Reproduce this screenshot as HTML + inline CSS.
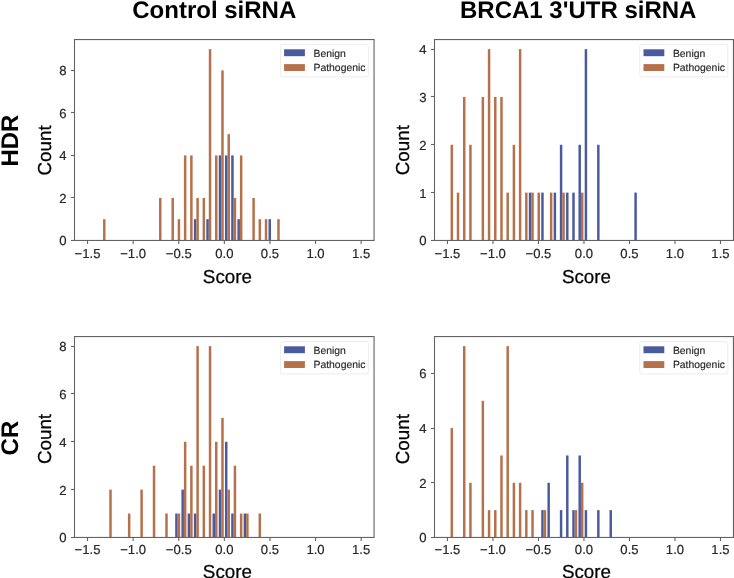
<!DOCTYPE html>
<html><head><meta charset="utf-8"><style>
html,body{margin:0;padding:0;background:#fff;}
body{width:734px;height:578px;overflow:hidden;}
svg{display:block;will-change:transform;}
text{font-family:"Liberation Sans",sans-serif;fill:#000;text-rendering:geometricPrecision;}
.tk{font-size:13.1px;fill:#262626;stroke:#262626;stroke-width:0.2px;}
.lab{font-size:18.8px;fill:#000;stroke:#000;stroke-width:0.25px;}
.ttl{font-size:24px;font-weight:bold;}
.lg{font-size:10.4px;fill:#262626;stroke:#262626;stroke-width:0.15px;}
</style></head><body>
<svg width="734" height="578" viewBox="0 0 734 578">

<rect x="103.03" y="219.19" width="2.49" height="21.26" fill="#b5714a"/>
<rect x="159.02" y="197.93" width="2.49" height="42.52" fill="#b5714a"/>
<rect x="171.47" y="197.93" width="2.49" height="42.52" fill="#b5714a"/>
<rect x="177.69" y="219.19" width="2.49" height="21.26" fill="#b5714a"/>
<rect x="183.91" y="155.42" width="2.49" height="85.03" fill="#b5714a"/>
<rect x="190.13" y="155.42" width="2.49" height="85.03" fill="#b5714a"/>
<rect x="193.87" y="219.19" width="2.49" height="21.26" fill="#4a5a9e"/>
<rect x="196.35" y="197.93" width="2.49" height="42.52" fill="#b5714a"/>
<rect x="202.58" y="197.93" width="2.49" height="42.52" fill="#b5714a"/>
<rect x="206.31" y="219.19" width="2.49" height="21.26" fill="#4a5a9e"/>
<rect x="208.8" y="49.13" width="2.49" height="191.32" fill="#b5714a"/>
<rect x="215.02" y="155.42" width="2.49" height="85.03" fill="#b5714a"/>
<rect x="218.75" y="155.42" width="2.49" height="85.03" fill="#4a5a9e"/>
<rect x="221.24" y="70.38" width="2.49" height="170.07" fill="#b5714a"/>
<rect x="224.98" y="155.42" width="2.49" height="85.03" fill="#4a5a9e"/>
<rect x="227.47" y="134.16" width="2.49" height="106.29" fill="#b5714a"/>
<rect x="231.2" y="155.42" width="2.49" height="85.03" fill="#4a5a9e"/>
<rect x="233.69" y="197.93" width="2.49" height="42.52" fill="#b5714a"/>
<rect x="237.42" y="219.19" width="2.49" height="21.26" fill="#4a5a9e"/>
<rect x="239.91" y="155.42" width="2.49" height="85.03" fill="#b5714a"/>
<rect x="252.35" y="197.93" width="2.49" height="42.52" fill="#b5714a"/>
<rect x="258.57" y="219.19" width="2.49" height="21.26" fill="#b5714a"/>
<rect x="264.8" y="219.19" width="2.49" height="21.26" fill="#b5714a"/>
<rect x="268.53" y="219.19" width="2.49" height="21.26" fill="#4a5a9e"/>
<rect x="277.24" y="219.19" width="2.49" height="21.26" fill="#b5714a"/>
<rect x="74.5" y="39.56" width="299.56" height="200.89" fill="none" stroke="#636363" stroke-width="1.1"/>
<line x1="87.55" y1="240.45" x2="87.55" y2="244.05" stroke="#636363" stroke-width="1.1"/>
<text class="tk" x="87.55" y="257.75" text-anchor="middle">−1.5</text>
<line x1="133.15" y1="240.45" x2="133.15" y2="244.05" stroke="#636363" stroke-width="1.1"/>
<text class="tk" x="133.15" y="257.75" text-anchor="middle">−1.0</text>
<line x1="178.75" y1="240.45" x2="178.75" y2="244.05" stroke="#636363" stroke-width="1.1"/>
<text class="tk" x="178.75" y="257.75" text-anchor="middle">−0.5</text>
<line x1="224.35" y1="240.45" x2="224.35" y2="244.05" stroke="#636363" stroke-width="1.1"/>
<text class="tk" x="224.35" y="257.75" text-anchor="middle">0.0</text>
<line x1="269.95" y1="240.45" x2="269.95" y2="244.05" stroke="#636363" stroke-width="1.1"/>
<text class="tk" x="269.95" y="257.75" text-anchor="middle">0.5</text>
<line x1="315.55" y1="240.45" x2="315.55" y2="244.05" stroke="#636363" stroke-width="1.1"/>
<text class="tk" x="315.55" y="257.75" text-anchor="middle">1.0</text>
<line x1="361.15" y1="240.45" x2="361.15" y2="244.05" stroke="#636363" stroke-width="1.1"/>
<text class="tk" x="361.15" y="257.75" text-anchor="middle">1.5</text>
<line x1="70.9" y1="240.5" x2="74.5" y2="240.5" stroke="#636363" stroke-width="1.1"/>
<text class="tk" x="66.5" y="245.35" text-anchor="end">0</text>
<line x1="70.9" y1="197.5" x2="74.5" y2="197.5" stroke="#636363" stroke-width="1.1"/>
<text class="tk" x="66.5" y="202.83" text-anchor="end">2</text>
<line x1="70.9" y1="155.5" x2="74.5" y2="155.5" stroke="#636363" stroke-width="1.1"/>
<text class="tk" x="66.5" y="160.32" text-anchor="end">4</text>
<line x1="70.9" y1="112.5" x2="74.5" y2="112.5" stroke="#636363" stroke-width="1.1"/>
<text class="tk" x="66.5" y="117.8" text-anchor="end">6</text>
<line x1="70.9" y1="70.5" x2="74.5" y2="70.5" stroke="#636363" stroke-width="1.1"/>
<text class="tk" x="66.5" y="75.28" text-anchor="end">8</text>
<text class="lab" x="227.4" y="283.3" text-anchor="middle">Score</text>
<text class="lab" transform="translate(51,150.4) rotate(-90)" text-anchor="middle">Count</text>
<rect x="280.4" y="44.5" width="88" height="32.4" rx="2.2" fill="#fff" stroke="#ececec" stroke-width="1"/>
<rect x="284.1" y="49.3" width="20.8" height="6.9" fill="#4a5a9e"/>
<rect x="284.1" y="64.1" width="20.8" height="6.9" fill="#b5714a"/>
<text class="lg" x="313.5" y="56.6">Benign</text>
<text class="lg" x="313.5" y="70.9">Pathogenic</text>
<rect x="450.57" y="144.79" width="2.48" height="95.66" fill="#b5714a"/>
<rect x="456.78" y="192.62" width="2.48" height="47.83" fill="#b5714a"/>
<rect x="462.99" y="96.96" width="2.48" height="143.49" fill="#b5714a"/>
<rect x="469.2" y="144.79" width="2.48" height="95.66" fill="#b5714a"/>
<rect x="481.62" y="96.96" width="2.48" height="143.49" fill="#b5714a"/>
<rect x="487.83" y="49.13" width="2.48" height="191.32" fill="#b5714a"/>
<rect x="494.03" y="96.96" width="2.48" height="143.49" fill="#b5714a"/>
<rect x="500.24" y="96.96" width="2.48" height="143.49" fill="#b5714a"/>
<rect x="506.45" y="192.62" width="2.48" height="47.83" fill="#b5714a"/>
<rect x="512.66" y="144.79" width="2.48" height="95.66" fill="#b5714a"/>
<rect x="518.87" y="49.13" width="2.48" height="191.32" fill="#b5714a"/>
<rect x="525.08" y="192.62" width="2.48" height="47.83" fill="#b5714a"/>
<rect x="528.8" y="192.62" width="2.48" height="47.83" fill="#4a5a9e"/>
<rect x="531.28" y="192.62" width="2.48" height="47.83" fill="#b5714a"/>
<rect x="537.49" y="192.62" width="2.48" height="47.83" fill="#b5714a"/>
<rect x="541.22" y="192.62" width="2.48" height="47.83" fill="#4a5a9e"/>
<rect x="549.91" y="192.62" width="2.48" height="47.83" fill="#b5714a"/>
<rect x="553.64" y="192.62" width="2.48" height="47.83" fill="#4a5a9e"/>
<rect x="559.84" y="144.79" width="2.48" height="95.66" fill="#4a5a9e"/>
<rect x="562.33" y="192.62" width="2.48" height="47.83" fill="#b5714a"/>
<rect x="566.05" y="192.62" width="2.48" height="47.83" fill="#4a5a9e"/>
<rect x="572.26" y="192.62" width="2.48" height="47.83" fill="#4a5a9e"/>
<rect x="578.47" y="144.79" width="2.48" height="95.66" fill="#4a5a9e"/>
<rect x="580.95" y="192.62" width="2.48" height="47.83" fill="#b5714a"/>
<rect x="584.68" y="49.13" width="2.48" height="191.32" fill="#4a5a9e"/>
<rect x="597.09" y="144.79" width="2.48" height="95.66" fill="#4a5a9e"/>
<rect x="634.35" y="192.62" width="2.48" height="47.83" fill="#4a5a9e"/>
<rect x="434.5" y="39.56" width="298.95" height="200.89" fill="none" stroke="#636363" stroke-width="1.1"/>
<line x1="447.47" y1="240.45" x2="447.47" y2="244.05" stroke="#636363" stroke-width="1.1"/>
<text class="tk" x="447.47" y="257.75" text-anchor="middle">−1.5</text>
<line x1="492.97" y1="240.45" x2="492.97" y2="244.05" stroke="#636363" stroke-width="1.1"/>
<text class="tk" x="492.97" y="257.75" text-anchor="middle">−1.0</text>
<line x1="538.47" y1="240.45" x2="538.47" y2="244.05" stroke="#636363" stroke-width="1.1"/>
<text class="tk" x="538.47" y="257.75" text-anchor="middle">−0.5</text>
<line x1="583.97" y1="240.45" x2="583.97" y2="244.05" stroke="#636363" stroke-width="1.1"/>
<text class="tk" x="583.97" y="257.75" text-anchor="middle">0.0</text>
<line x1="629.47" y1="240.45" x2="629.47" y2="244.05" stroke="#636363" stroke-width="1.1"/>
<text class="tk" x="629.47" y="257.75" text-anchor="middle">0.5</text>
<line x1="674.97" y1="240.45" x2="674.97" y2="244.05" stroke="#636363" stroke-width="1.1"/>
<text class="tk" x="674.97" y="257.75" text-anchor="middle">1.0</text>
<line x1="720.47" y1="240.45" x2="720.47" y2="244.05" stroke="#636363" stroke-width="1.1"/>
<text class="tk" x="720.47" y="257.75" text-anchor="middle">1.5</text>
<line x1="430.9" y1="240.5" x2="434.5" y2="240.5" stroke="#636363" stroke-width="1.1"/>
<text class="tk" x="426.5" y="245.35" text-anchor="end">0</text>
<line x1="430.9" y1="192.5" x2="434.5" y2="192.5" stroke="#636363" stroke-width="1.1"/>
<text class="tk" x="426.5" y="197.52" text-anchor="end">1</text>
<line x1="430.9" y1="144.5" x2="434.5" y2="144.5" stroke="#636363" stroke-width="1.1"/>
<text class="tk" x="426.5" y="149.69" text-anchor="end">2</text>
<line x1="430.9" y1="96.5" x2="434.5" y2="96.5" stroke="#636363" stroke-width="1.1"/>
<text class="tk" x="426.5" y="101.86" text-anchor="end">3</text>
<line x1="430.9" y1="49.5" x2="434.5" y2="49.5" stroke="#636363" stroke-width="1.1"/>
<text class="tk" x="426.5" y="54.03" text-anchor="end">4</text>
<text class="lab" x="586.42" y="283.3" text-anchor="middle">Score</text>
<text class="lab" transform="translate(409.2,150.2) rotate(-90)" text-anchor="middle">Count</text>
<rect x="639.8" y="44.5" width="88" height="32.4" rx="2.2" fill="#fff" stroke="#ececec" stroke-width="1"/>
<rect x="643.5" y="49.3" width="20.8" height="6.9" fill="#4a5a9e"/>
<rect x="643.5" y="64.1" width="20.8" height="6.9" fill="#b5714a"/>
<text class="lg" x="672.9" y="56.6">Benign</text>
<text class="lg" x="672.9" y="70.9">Pathogenic</text>
<rect x="109.25" y="489.62" width="2.49" height="47.83" fill="#b5714a"/>
<rect x="127.91" y="513.53" width="2.49" height="23.92" fill="#b5714a"/>
<rect x="140.36" y="489.62" width="2.49" height="47.83" fill="#b5714a"/>
<rect x="152.8" y="465.7" width="2.49" height="71.75" fill="#b5714a"/>
<rect x="165.25" y="513.53" width="2.49" height="23.92" fill="#b5714a"/>
<rect x="175.2" y="513.53" width="2.49" height="23.92" fill="#4a5a9e"/>
<rect x="177.69" y="513.53" width="2.49" height="23.92" fill="#b5714a"/>
<rect x="181.42" y="489.62" width="2.49" height="47.83" fill="#4a5a9e"/>
<rect x="183.91" y="441.79" width="2.49" height="95.66" fill="#b5714a"/>
<rect x="187.64" y="513.53" width="2.49" height="23.92" fill="#4a5a9e"/>
<rect x="190.13" y="465.7" width="2.49" height="71.75" fill="#b5714a"/>
<rect x="193.87" y="513.53" width="2.49" height="23.92" fill="#4a5a9e"/>
<rect x="196.35" y="346.13" width="2.49" height="191.32" fill="#b5714a"/>
<rect x="202.58" y="465.7" width="2.49" height="71.75" fill="#b5714a"/>
<rect x="208.8" y="346.13" width="2.49" height="191.32" fill="#b5714a"/>
<rect x="212.53" y="513.53" width="2.49" height="23.92" fill="#4a5a9e"/>
<rect x="215.02" y="441.79" width="2.49" height="95.66" fill="#b5714a"/>
<rect x="218.75" y="489.62" width="2.49" height="47.83" fill="#4a5a9e"/>
<rect x="221.24" y="417.87" width="2.49" height="119.58" fill="#b5714a"/>
<rect x="224.98" y="441.79" width="2.49" height="95.66" fill="#4a5a9e"/>
<rect x="227.47" y="489.62" width="2.49" height="47.83" fill="#b5714a"/>
<rect x="231.2" y="513.53" width="2.49" height="23.92" fill="#4a5a9e"/>
<rect x="233.69" y="465.7" width="2.49" height="71.75" fill="#b5714a"/>
<rect x="239.91" y="513.53" width="2.49" height="23.92" fill="#b5714a"/>
<rect x="243.64" y="513.53" width="2.49" height="23.92" fill="#4a5a9e"/>
<rect x="246.13" y="513.53" width="2.49" height="23.92" fill="#b5714a"/>
<rect x="258.57" y="513.53" width="2.49" height="23.92" fill="#b5714a"/>
<rect x="74.5" y="336.56" width="299.56" height="200.89" fill="none" stroke="#636363" stroke-width="1.1"/>
<line x1="87.55" y1="537.45" x2="87.55" y2="541.05" stroke="#636363" stroke-width="1.1"/>
<text class="tk" x="87.55" y="554.35" text-anchor="middle">−1.5</text>
<line x1="133.15" y1="537.45" x2="133.15" y2="541.05" stroke="#636363" stroke-width="1.1"/>
<text class="tk" x="133.15" y="554.35" text-anchor="middle">−1.0</text>
<line x1="178.75" y1="537.45" x2="178.75" y2="541.05" stroke="#636363" stroke-width="1.1"/>
<text class="tk" x="178.75" y="554.35" text-anchor="middle">−0.5</text>
<line x1="224.35" y1="537.45" x2="224.35" y2="541.05" stroke="#636363" stroke-width="1.1"/>
<text class="tk" x="224.35" y="554.35" text-anchor="middle">0.0</text>
<line x1="269.95" y1="537.45" x2="269.95" y2="541.05" stroke="#636363" stroke-width="1.1"/>
<text class="tk" x="269.95" y="554.35" text-anchor="middle">0.5</text>
<line x1="315.55" y1="537.45" x2="315.55" y2="541.05" stroke="#636363" stroke-width="1.1"/>
<text class="tk" x="315.55" y="554.35" text-anchor="middle">1.0</text>
<line x1="361.15" y1="537.45" x2="361.15" y2="541.05" stroke="#636363" stroke-width="1.1"/>
<text class="tk" x="361.15" y="554.35" text-anchor="middle">1.5</text>
<line x1="70.9" y1="537.5" x2="74.5" y2="537.5" stroke="#636363" stroke-width="1.1"/>
<text class="tk" x="66.5" y="542.35" text-anchor="end">0</text>
<line x1="70.9" y1="489.5" x2="74.5" y2="489.5" stroke="#636363" stroke-width="1.1"/>
<text class="tk" x="66.5" y="494.52" text-anchor="end">2</text>
<line x1="70.9" y1="441.5" x2="74.5" y2="441.5" stroke="#636363" stroke-width="1.1"/>
<text class="tk" x="66.5" y="446.69" text-anchor="end">4</text>
<line x1="70.9" y1="393.5" x2="74.5" y2="393.5" stroke="#636363" stroke-width="1.1"/>
<text class="tk" x="66.5" y="398.86" text-anchor="end">6</text>
<line x1="70.9" y1="346.5" x2="74.5" y2="346.5" stroke="#636363" stroke-width="1.1"/>
<text class="tk" x="66.5" y="351.03" text-anchor="end">8</text>
<text class="lab" x="227.4" y="577.9" text-anchor="middle">Score</text>
<text class="lab" transform="translate(51,439) rotate(-90)" text-anchor="middle">Count</text>
<rect x="280.4" y="341.5" width="88" height="32.4" rx="2.2" fill="#fff" stroke="#ececec" stroke-width="1"/>
<rect x="284.1" y="346.3" width="20.8" height="6.9" fill="#4a5a9e"/>
<rect x="284.1" y="361.1" width="20.8" height="6.9" fill="#b5714a"/>
<text class="lg" x="313.5" y="353.6">Benign</text>
<text class="lg" x="313.5" y="367.9">Pathogenic</text>
<rect x="450.57" y="428.12" width="2.48" height="109.33" fill="#b5714a"/>
<rect x="462.99" y="346.13" width="2.48" height="191.32" fill="#b5714a"/>
<rect x="469.2" y="482.79" width="2.48" height="54.66" fill="#b5714a"/>
<rect x="481.62" y="400.79" width="2.48" height="136.66" fill="#b5714a"/>
<rect x="487.83" y="510.12" width="2.48" height="27.33" fill="#b5714a"/>
<rect x="494.03" y="510.12" width="2.48" height="27.33" fill="#b5714a"/>
<rect x="500.24" y="455.45" width="2.48" height="82" fill="#b5714a"/>
<rect x="506.45" y="346.13" width="2.48" height="191.32" fill="#b5714a"/>
<rect x="512.66" y="482.79" width="2.48" height="54.66" fill="#b5714a"/>
<rect x="518.87" y="482.79" width="2.48" height="54.66" fill="#b5714a"/>
<rect x="525.08" y="510.12" width="2.48" height="27.33" fill="#b5714a"/>
<rect x="531.28" y="510.12" width="2.48" height="27.33" fill="#b5714a"/>
<rect x="541.22" y="510.12" width="2.48" height="27.33" fill="#4a5a9e"/>
<rect x="543.7" y="510.12" width="2.48" height="27.33" fill="#b5714a"/>
<rect x="547.43" y="482.79" width="2.48" height="54.66" fill="#4a5a9e"/>
<rect x="559.84" y="510.12" width="2.48" height="27.33" fill="#4a5a9e"/>
<rect x="566.05" y="455.45" width="2.48" height="82" fill="#4a5a9e"/>
<rect x="572.26" y="510.12" width="2.48" height="27.33" fill="#4a5a9e"/>
<rect x="574.74" y="510.12" width="2.48" height="27.33" fill="#b5714a"/>
<rect x="578.47" y="455.45" width="2.48" height="82" fill="#4a5a9e"/>
<rect x="580.95" y="482.79" width="2.48" height="54.66" fill="#b5714a"/>
<rect x="584.68" y="510.12" width="2.48" height="27.33" fill="#4a5a9e"/>
<rect x="597.09" y="510.12" width="2.48" height="27.33" fill="#4a5a9e"/>
<rect x="609.51" y="510.12" width="2.48" height="27.33" fill="#4a5a9e"/>
<rect x="434.5" y="336.56" width="298.95" height="200.89" fill="none" stroke="#636363" stroke-width="1.1"/>
<line x1="447.47" y1="537.45" x2="447.47" y2="541.05" stroke="#636363" stroke-width="1.1"/>
<text class="tk" x="447.47" y="554.35" text-anchor="middle">−1.5</text>
<line x1="492.97" y1="537.45" x2="492.97" y2="541.05" stroke="#636363" stroke-width="1.1"/>
<text class="tk" x="492.97" y="554.35" text-anchor="middle">−1.0</text>
<line x1="538.47" y1="537.45" x2="538.47" y2="541.05" stroke="#636363" stroke-width="1.1"/>
<text class="tk" x="538.47" y="554.35" text-anchor="middle">−0.5</text>
<line x1="583.97" y1="537.45" x2="583.97" y2="541.05" stroke="#636363" stroke-width="1.1"/>
<text class="tk" x="583.97" y="554.35" text-anchor="middle">0.0</text>
<line x1="629.47" y1="537.45" x2="629.47" y2="541.05" stroke="#636363" stroke-width="1.1"/>
<text class="tk" x="629.47" y="554.35" text-anchor="middle">0.5</text>
<line x1="674.97" y1="537.45" x2="674.97" y2="541.05" stroke="#636363" stroke-width="1.1"/>
<text class="tk" x="674.97" y="554.35" text-anchor="middle">1.0</text>
<line x1="720.47" y1="537.45" x2="720.47" y2="541.05" stroke="#636363" stroke-width="1.1"/>
<text class="tk" x="720.47" y="554.35" text-anchor="middle">1.5</text>
<line x1="430.9" y1="537.5" x2="434.5" y2="537.5" stroke="#636363" stroke-width="1.1"/>
<text class="tk" x="426.5" y="542.35" text-anchor="end">0</text>
<line x1="430.9" y1="482.5" x2="434.5" y2="482.5" stroke="#636363" stroke-width="1.1"/>
<text class="tk" x="426.5" y="487.69" text-anchor="end">2</text>
<line x1="430.9" y1="428.5" x2="434.5" y2="428.5" stroke="#636363" stroke-width="1.1"/>
<text class="tk" x="426.5" y="433.02" text-anchor="end">4</text>
<line x1="430.9" y1="373.5" x2="434.5" y2="373.5" stroke="#636363" stroke-width="1.1"/>
<text class="tk" x="426.5" y="378.36" text-anchor="end">6</text>
<text class="lab" x="586.42" y="577.9" text-anchor="middle">Score</text>
<text class="lab" transform="translate(409.2,439.2) rotate(-90)" text-anchor="middle">Count</text>
<rect x="639.8" y="341.5" width="88" height="32.4" rx="2.2" fill="#fff" stroke="#ececec" stroke-width="1"/>
<rect x="643.5" y="346.3" width="20.8" height="6.9" fill="#4a5a9e"/>
<rect x="643.5" y="361.1" width="20.8" height="6.9" fill="#b5714a"/>
<text class="lg" x="672.9" y="353.6">Benign</text>
<text class="lg" x="672.9" y="367.9">Pathogenic</text>
<text class="ttl" x="214.25" y="18" text-anchor="middle">Control siRNA</text>
<text class="ttl" x="578.2" y="18" text-anchor="middle">BRCA1 3'UTR siRNA</text>
<text class="ttl" transform="translate(17.5,140.6) rotate(-90)" text-anchor="middle">HDR</text>
<text class="ttl" transform="translate(17.5,438.1) rotate(-90)" text-anchor="middle">CR</text>
</svg>
</body></html>
